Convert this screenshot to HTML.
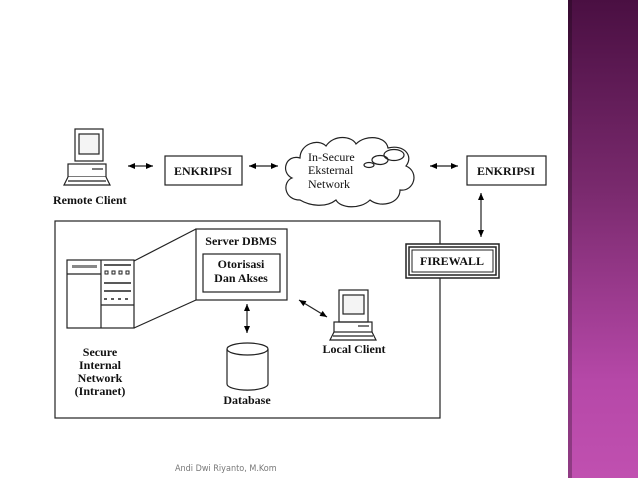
<!DOCTYPE html>
<html><head><meta charset="utf-8"><style>
html,body{margin:0;padding:0;background:#fff;width:638px;height:478px;overflow:hidden}
.strip{position:absolute;left:568px;top:0;width:70px;height:478px;background:linear-gradient(#4a0f42,#7a2a6e 40%,#b648a8 80%,#c050b0)}
.edge{position:absolute;left:568px;top:0;width:4px;height:478px;background:rgba(0,0,0,.25)}
svg{position:absolute;left:0;top:0}
text{font-family:"Liberation Serif",serif;fill:#111}
.b{font-weight:bold}
</style></head><body>
<div class="strip"></div><div class="edge"></div>
<svg width="638" height="478" viewBox="0 0 638 478">
<defs><marker id="a" markerWidth="8" markerHeight="8" refX="7" refY="4" orient="auto-start-reverse" markerUnits="userSpaceOnUse"><path d="M0,1 L7,4 L0,7 Z" fill="#000"/></marker></defs>
<g stroke="#222" fill="none" stroke-width="1.2">
<rect x="75" y="129" width="28" height="32" fill="#fff"/><rect x="79" y="134" width="20" height="20" fill="#f4f4f4"/>
<rect x="68" y="164" width="38" height="13" fill="#fff"/>
<line x1="92" y1="169" x2="103" y2="169"/>
<path d="M68,177 L64,185 L110,185 L106,177" fill="#fff"/>
<line x1="68" y1="181" x2="106" y2="181"/>
<line x1="128" y1="166" x2="153" y2="166" marker-start="url(#a)" marker-end="url(#a)"/>
<rect x="165" y="156" width="77" height="29"/>
<line x1="249" y1="166" x2="278" y2="166" marker-start="url(#a)" marker-end="url(#a)"/>
<path d="M300,200 C284,200 282,182 292,178 C280,172 286,154 300,158 C300,144 318,138 326,146 C334,134 352,136 356,144 C366,134 386,136 388,148 C404,144 414,156 406,166 C420,172 414,192 400,190 C400,204 380,208 370,200 C360,210 340,208 336,200 C326,208 310,206 300,200 Z"/>
<ellipse cx="369" cy="165" rx="5" ry="2.5"/><ellipse cx="380" cy="160" rx="8" ry="4.5"/><ellipse cx="394" cy="155" rx="10" ry="5.5"/>
<line x1="430" y1="166" x2="458" y2="166" marker-start="url(#a)" marker-end="url(#a)"/>
<rect x="467" y="156" width="79" height="29"/>
<line x1="481" y1="193" x2="481" y2="237" marker-start="url(#a)" marker-end="url(#a)"/>
<rect x="55" y="221" width="385" height="197"/>
<rect x="406" y="244" width="93" height="34" stroke-width="1.5" fill="#fff"/>
<rect x="409" y="247" width="87" height="28" stroke-width="1.5"/>
<rect x="412" y="250" width="81" height="22" stroke-width="1"/>
<rect x="196" y="229" width="91" height="71"/>
<rect x="203" y="254" width="77" height="38"/>
<line x1="134" y1="261" x2="196" y2="229"/><line x1="134" y1="328" x2="196" y2="300"/>
<rect x="67" y="260" width="67" height="68"/>
<line x1="101" y1="260" x2="101" y2="328"/><line x1="67" y1="274" x2="101" y2="274"/>
<line x1="101" y1="305" x2="134" y2="305"/>
<rect x="72" y="265" width="25" height="3" fill="#888" stroke="none"/>
<g stroke-width="1.5"><line x1="104" y1="265" x2="131" y2="265"/><line x1="104" y1="283" x2="131" y2="283"/><line x1="104" y1="291" x2="131" y2="291"/><line x1="104" y1="299" x2="131" y2="299" stroke-dasharray="3,4"/></g>
<g stroke-width="1"><rect x="105" y="271" width="3" height="3"/><rect x="112" y="271" width="3" height="3"/><rect x="119" y="271" width="3" height="3"/><rect x="126" y="271" width="3" height="3"/></g>
<line x1="247" y1="304" x2="247" y2="333" marker-start="url(#a)" marker-end="url(#a)"/>
<path d="M227,349 L227,384 A20,6 0 0 0 268,384 L268,349"/><ellipse cx="247.5" cy="349" rx="20.5" ry="6"/>
<line x1="299" y1="300" x2="327" y2="317" marker-start="url(#a)" marker-end="url(#a)"/>
<rect x="339" y="290" width="29" height="32" fill="#fff"/><rect x="343" y="295" width="21" height="19" fill="#f4f4f4"/>
<rect x="334" y="322" width="38" height="10"/>
<line x1="358" y1="326" x2="369" y2="326"/>
<path d="M334,332 L330,340 L376,340 L372,332"/>
<line x1="333" y1="336" x2="373" y2="336"/>
</g>
<text class="b" x="53" y="204" font-size="12">Remote Client</text>
<text class="b" x="203" y="175" font-size="12" text-anchor="middle">ENKRIPSI</text>
<text class="b" x="506" y="175" font-size="12" text-anchor="middle">ENKRIPSI</text>
<text x="308" y="161" font-size="12">In-Secure</text>
<text x="308" y="174" font-size="12">Eksternal</text>
<text x="308" y="188" font-size="12">Network</text>
<text class="b" x="452" y="265" font-size="12" text-anchor="middle">FIREWALL</text>
<text class="b" x="241" y="245" font-size="12" text-anchor="middle">Server DBMS</text>
<text class="b" x="241" y="268" font-size="12" text-anchor="middle">Otorisasi</text>
<text class="b" x="241" y="282" font-size="12" text-anchor="middle">Dan Akses</text>
<text class="b" x="100" y="356" font-size="12" text-anchor="middle">Secure</text>
<text class="b" x="100" y="369" font-size="12" text-anchor="middle">Internal</text>
<text class="b" x="100" y="382" font-size="12" text-anchor="middle">Network</text>
<text class="b" x="100" y="395" font-size="12" text-anchor="middle">(Intranet)</text>
<text class="b" x="247" y="404" font-size="12" text-anchor="middle">Database</text>
<text class="b" x="354" y="353" font-size="12" text-anchor="middle">Local Client</text>
<text x="175" y="471" font-size="9" style="font-family:'DejaVu Sans Condensed','DejaVu Sans',sans-serif;fill:#777">Andi Dwi Riyanto, M.Kom</text>
</svg>
</body></html>
